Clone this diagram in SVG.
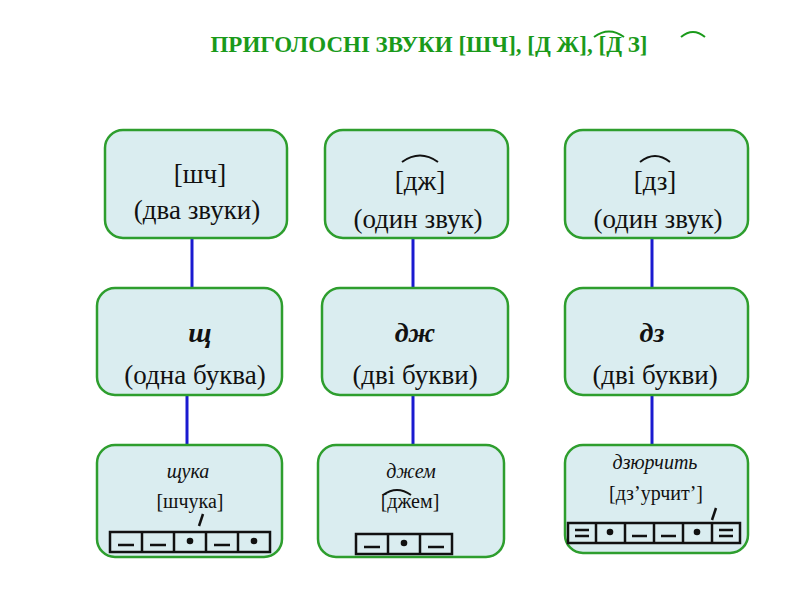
<svg xmlns="http://www.w3.org/2000/svg" width="800" height="600" viewBox="0 0 800 600">
<style>
.box{fill:#daedf0;stroke:#2e9e2e;stroke-width:2.5}
.t{font-family:"Liberation Serif",serif;fill:#111;text-anchor:middle}
.big{font-size:27px}
.it{font-style:italic}
.bi{font-style:italic;font-weight:bold;font-size:28px}
.sm{font-size:20px}
.con line{stroke:#1a1ad0;stroke-width:3}
.cell{fill:none;stroke:#111;stroke-width:2.5}
.dash{stroke:#111;stroke-width:2.5}
.arc{fill:none;stroke:#111;stroke-width:2}
</style>
<text x="429" y="52" font-family="Liberation Serif,serif" font-weight="bold" font-size="23" fill="#1a9a1a" text-anchor="middle">ПРИГОЛОСНІ ЗВУКИ [ШЧ], [Д Ж], [Д З]</text>
<path d="M594 37 Q609 26 624 37" fill="none" stroke="#1a9a1a" stroke-width="2"/>
<path d="M681 37 Q693 27 705 37" fill="none" stroke="#1a9a1a" stroke-width="2"/>
<g class="con">
<line x1="192" y1="238" x2="192" y2="288"/><line x1="187" y1="395" x2="187" y2="445"/>
<line x1="413" y1="238" x2="413" y2="288"/><line x1="413" y1="395" x2="413" y2="445"/>
<line x1="652" y1="238" x2="652" y2="288"/><line x1="652" y1="395" x2="652" y2="445"/>
</g>
<g id="n1"><rect class="box" x="105" y="130" width="182" height="108" rx="18"/><text class="t big" x="200" y="183">[шч]</text><text class="t big" x="197" y="219">(два звуки)</text></g>
<g id="n2"><rect class="box" x="325" y="130" width="183" height="108" rx="18"/><text class="t big" x="420" y="190">[дж]</text><path class="arc" d="M402 162 Q420 149 438 162"/><text class="t big" x="418" y="228">(один звук)</text></g>
<g id="n3"><rect class="box" x="565" y="130" width="183" height="108" rx="18"/><text class="t big" x="655" y="190">[дз]</text><path class="arc" d="M640 162 Q655 150 670 162"/><text class="t big" x="658" y="228">(один звук)</text></g>
<g id="n4"><rect class="box" x="97" y="288" width="185" height="107" rx="18"/><text class="t bi" x="200" y="342">щ</text><text class="t big" x="195" y="384">(одна буква)</text></g>
<g id="n5"><rect class="box" x="322" y="288" width="186" height="107" rx="18"/><text class="t bi" x="415" y="342">дж</text><text class="t big" x="415" y="384">(дві букви)</text></g>
<g id="n6"><rect class="box" x="565" y="288" width="183" height="107" rx="18"/><text class="t bi" x="652" y="342">дз</text><text class="t big" x="655" y="384">(дві букви)</text></g>
<g id="n7"><rect class="box" x="97" y="445" width="185" height="112" rx="18"/><text class="t sm it" x="188" y="478">щука</text><text class="t sm" x="190" y="508">[шчука]</text><line class="dash" x1="203" y1="514" x2="199" y2="526"/>
<rect class="cell" x="110" y="532" width="160" height="20"/><line class="dash" x1="142" y1="532" x2="142" y2="552"/><line class="dash" x1="174" y1="532" x2="174" y2="552"/><line class="dash" x1="206" y1="532" x2="206" y2="552"/><line class="dash" x1="238" y1="532" x2="238" y2="552"/>
<line class="dash" x1="118" y1="545" x2="134" y2="545"/><line class="dash" x1="150" y1="545" x2="166" y2="545"/><circle cx="190" cy="541" r="3.3" fill="#111"/><line class="dash" x1="214" y1="545" x2="230" y2="545"/><circle cx="254" cy="541" r="3.3" fill="#111"/></g>
<g id="n8"><rect class="box" x="318" y="445" width="186" height="112" rx="18"/><text class="t sm it" x="411" y="478">джем</text><text class="t sm" x="410" y="508">[джем]</text><path class="arc" d="M383 495 Q397 485 411 495"/>
<rect class="cell" x="356" y="534" width="96" height="20"/><line class="dash" x1="388" y1="534" x2="388" y2="554"/><line class="dash" x1="420" y1="534" x2="420" y2="554"/>
<line class="dash" x1="364" y1="547" x2="380" y2="547"/><circle cx="404" cy="543" r="3.3" fill="#111"/><line class="dash" x1="428" y1="547" x2="444" y2="547"/></g>
<g id="n9"><rect class="box" x="565" y="445" width="183" height="108" rx="18"/><text class="t sm it" x="655" y="469">дзюрчить</text><text class="t sm" x="656" y="500">[дз’урчит’]</text><line class="dash" x1="716" y1="508" x2="712" y2="520"/>
<rect class="cell" x="568" y="523" width="172" height="20"/><line class="dash" x1="596" y1="523" x2="596" y2="543"/><line class="dash" x1="625" y1="523" x2="625" y2="543"/><line class="dash" x1="654" y1="523" x2="654" y2="543"/><line class="dash" x1="683" y1="523" x2="683" y2="543"/><line class="dash" x1="712" y1="523" x2="712" y2="543"/>
<line class="dash" x1="575" y1="530" x2="589" y2="530"/><line class="dash" x1="575" y1="536" x2="589" y2="536"/><circle cx="610" cy="532" r="3.3" fill="#111"/><line class="dash" x1="632" y1="536" x2="647" y2="536"/><line class="dash" x1="661" y1="536" x2="676" y2="536"/><circle cx="697" cy="532" r="3.3" fill="#111"/><line class="dash" x1="719" y1="530" x2="733" y2="530"/><line class="dash" x1="719" y1="536" x2="733" y2="536"/></g>
</svg>
